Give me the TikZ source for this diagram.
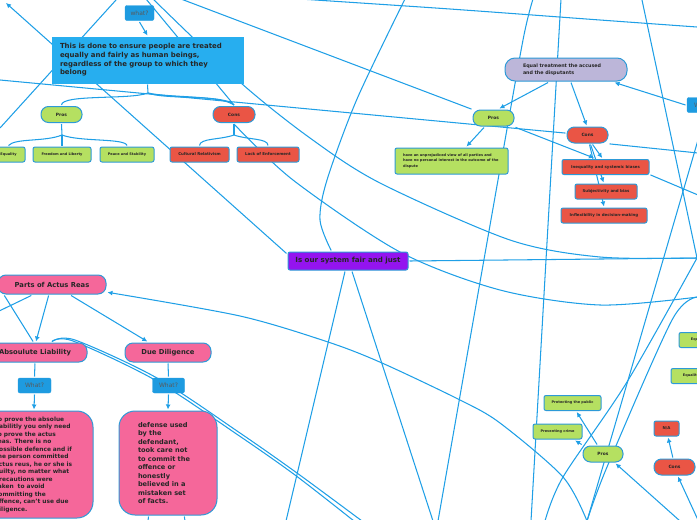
\documentclass[tikz,border=0pt]{standalone}
\usepackage{fontspec}
\setmainfont{DejaVu Sans}
\usepackage{tikz}
\usetikzlibrary{arrows.meta,backgrounds}
\definecolor{linecol}{HTML}{1F9FE6}
\definecolor{greencol}{HTML}{B5E061}
\definecolor{redcol}{HTML}{EA5545}
\definecolor{pinkcol}{HTML}{F5679A}
\definecolor{bluecol}{HTML}{27AEEF}
\definecolor{whatcol}{HTML}{1E9BE0}
\definecolor{purplecol}{HTML}{9414EF}
\definecolor{lavcol}{HTML}{BCB6D9}
\newcommand{\sz}[2]{\fontsize{#1}{#2}\selectfont\bfseries}
\tikzset{
  base/.style={draw=linecol!85!gray,line width=1pt,inner sep=0pt,outer sep=1.5pt,align=center,text=black!85},
  pill/.style={base,rounded corners=7.5pt,font=\sz{4.4}{5}},
  leaf/.style={base,fill=greencol,rounded corners=2pt,minimum height=15pt,font=\sz{3.5}{4}},
  redleaf/.style={leaf,fill=redcol,font=\sz{3.95}{4}},
  whatbox/.style={fill=whatcol,draw=whatcol,rounded corners=2pt,inner sep=0pt,outer sep=1.5pt,minimum height=15pt,font=\fontsize{6}{7}\selectfont,text=black!65},
  link/.style={draw=linecol,line width=1.05pt},
  arr/.style={link,-{Latex[length=5pt,width=5pt]}}
}
\begin{document}
\begin{tikzpicture}[x=1pt,y=-1pt]
\useasboundingbox (0,0) rectangle (697,520);
% centre
\node[base,fill=purplecol,rounded corners=2pt,minimum width=120pt,minimum height=18pt,font=\sz{7.1}{8}] (rootnode) at (348,261) {Is our system fair and just};
% top left
\node[whatbox,minimum width=29pt] (whatA) at (139.5,13) {what?};
\node[base,fill=bluecol,draw=bluecol,minimum width=191pt,minimum height=46pt,text width=175pt,font=\sz{6.95}{8.7},align=left] (doneA) at (147.5,60) {This is done to ensure people are treated\\equally and fairly as human beings,\\regardless of the group to which they\\belong};
\node[pill,fill=greencol,minimum width=41pt,minimum height=16pt] (prosA) at (61.5,114.5) {Pros};
\node[pill,fill=redcol,minimum width=42pt,minimum height=16pt] (consA) at (234,114.5) {Cons};
\node[leaf,minimum width=33pt] (equalA) at (8.5,154.5) {Equality};
\node[leaf,minimum width=58pt] (freeA) at (62,154.5) {Freedom and Liberty};
\node[leaf,minimum width=54pt] (peaceA) at (127,154.5) {Peace and Stability};
\node[redleaf,minimum width=59pt] (cultA) at (199.5,154.5) {Cultural Relativism};
\node[redleaf,minimum width=62pt] (lackA) at (268,154.5) {Lack of Enforcement};
% top right
\node[base,fill=lavcol,rounded corners=10pt,minimum width=122pt,minimum height=23pt,text width=86pt,font=\sz{4.8}{6.4},align=left] (treatB) at (566,69.5) {Equal treatment the accused\\and the disputants};
\node[pill,fill=greencol,minimum width=41pt,minimum height=16pt] (prosB) at (493.5,118) {Pros};
\node[pill,fill=redcol,minimum width=41pt,minimum height=16pt] (consB) at (587.5,135) {Cons};
\node[leaf,minimum width=113pt,minimum height=26pt,text width=97pt,font=\fontsize{3.55}{5.2}\selectfont\bfseries,align=left] (viewB) at (451.5,161) {have an unprejudiced view of all parties and\\have no personal interest in the outcome of the\\dispute};
\node[redleaf,minimum width=87pt] (ineqB) at (605.5,167) {Inequality and systemic biases};
\node[redleaf,minimum width=62pt] (subjB) at (606,191.5) {Subjectivity and bias};
\node[redleaf,minimum width=86pt] (inflexB) at (604,215.5) {Inflexibility in decision-making};
\node[whatbox,minimum width=33pt] (whatB) at (703.5,105) {What?};
% bottom left
\node[base,fill=pinkcol,rounded corners=8pt,minimum width=108pt,minimum height=19pt,font=\sz{6.8}{8}] (partsC) at (52,284.5) {Parts of Actus Reas};
\node[base,fill=pinkcol,rounded corners=8pt,minimum width=104pt,minimum height=19pt,font=\sz{6.8}{8}] (absC) at (35,352.5) {Absoulute Liability};
\node[base,fill=pinkcol,rounded corners=8pt,minimum width=86pt,minimum height=19pt,font=\sz{6.8}{8}] (dueC) at (168,352.5) {Due Diligence};
\node[whatbox,minimum width=33pt] (whatC) at (34.5,385.5) {What?};
\node[whatbox,minimum width=32pt] (whatD) at (168.5,385.5) {What?};
\node[base,fill=pinkcol,rounded corners=16pt,minimum width=118pt,minimum height=107pt,text width=78pt,font=\sz{5.9}{7.5},align=left] (absText) at (34,464.5) {To prove the absolue\\liabilitly you only need\\to prove the actus\\reas. There is no\\possible defence and if\\the person committed\\actus reus, he or she is\\guilty, no matter what\\precautions were\\taken~ to avoid\\committing the\\offence, can't use due\\diligence.};
\node[base,fill=pinkcol,rounded corners=16pt,minimum width=98pt,minimum height=104pt,text width=60pt,font=\sz{6.6}{8.5},align=left] (dueText) at (168,463) {defense used\\by the\\defendant,\\took care not\\to commit the\\offence or\\honestly\\believed in a\\mistaken set\\of facts.};
% bottom right
\node[leaf,minimum width=57pt] (protD) at (572.5,403) {Protecting the public};
\node[leaf,minimum width=49pt] (prevD) at (557.5,431.5) {Preventing crime};
\node[pill,fill=greencol,minimum width=40pt,minimum height=16pt] (prosD) at (603,454) {Pros};
\node[pill,fill=redcol,minimum width=41pt,minimum height=16pt] (consD) at (674.5,467) {Cons};
\node[redleaf,minimum width=25pt] (naD) at (666.5,428.5) {N/A};
\node[leaf,minimum width=40pt] (equalE) at (699,340) {Equality};
\node[leaf,minimum width=40pt] (equalF) at (691,376) {Equality};
% free ends
\coordinate (f1) at (6,3);
\coordinate (f2) at (116,0);
\coordinate (f3) at (0,128);
\coordinate (f4) at (146,-1);
\coordinate (f5) at (153,-1);
\coordinate (f6) at (181,-1);
\coordinate (f7) at (300,-1);
\coordinate (f8) at (697,27);
\coordinate (f9) at (405,-1);
\coordinate (f10) at (286,521);
\coordinate (f11) at (433,521);
\coordinate (f12) at (533,-1);
\coordinate (f13) at (438,521);
\coordinate (f14) at (561,-1);
\coordinate (f15) at (531,521);
\coordinate (f16) at (642,0);
\coordinate (f17) at (697,258);
\coordinate (f18) at (698,140);
\coordinate (f19) at (587,521);
\coordinate (f20) at (545,521);
\coordinate (f21) at (698,297);
\coordinate (f22) at (0,80);
\coordinate (f23) at (698,153);
\coordinate (f24) at (698,195);
\coordinate (f25) at (-5,313);
\coordinate (f26) at (698,520);
\coordinate (f27) at (680,521);
\coordinate (f28) at (362,521);
\coordinate (f29) at (354,521);
\coordinate (f30) at (148,521);
\coordinate (f31) at (185,521);
\begin{scope}[on background layer]
\draw[link] (f2) -- (f3);
\draw[arr] (rootnode.173) -- (f1);
\draw[arr] (whatA.south) -- (doneA.north);
\draw[link] (consA.north) -- (f4);
\draw[link] plot[smooth] coordinates {(f5) (241,83) (310,138) (380,183) (510,240) (600,257) (f17)};
\draw[link] (prosB.158) -- (f6);
\draw[link] plot[smooth] coordinates {(f7) (450,9) (600,20) (f8)};
\draw[link] plot[smooth] coordinates {(f9) (357,99) (327,180) (320,220) (rootnode.148)};
\draw[link] (rootnode.-106) -- (f10);
\draw[link] (rootnode.-69) -- (f11);
\draw[link] plot[smooth] coordinates {(f12) (523,40) (498,180) (f13)};
\draw[link] (f14) -- (f15);
\draw[link] (f16) -- (f17);
\draw[link] (f18) -- (f19);
\draw[link] plot[smooth] coordinates {(f17) (627,382) (563,477) (f20)};
\draw[link] plot[smooth] coordinates {(f21) (672,320) (607,467) (f19)};
\draw[link] (rootnode.east) -- (f17);
\draw[link] plot[smooth] coordinates {(consA.south) (293,180) (400,252) (500,290) (600,305) (f21)};
\draw[link] (f22) -- (consB.175);
\draw[link] (consB.-22) -- (f23);
\draw[arr] (prosB.-23) -- (ineqB.142);
\draw[link] (ineqB.-10) -- (f24);
% left tree
\draw[link] (doneA.south) -- (148,93);
\draw[link] (148,93) .. controls (130,100) and (62,94) .. (prosA.north);
\draw[link] (148,93) .. controls (165,100) and (225,94) .. (consA.north);
\draw[link] (148,93) .. controls (170,98) and (220,95) .. (consA.north);
\draw[link] (prosA.south) -- (62,135);
\draw[link] (62,135) .. controls (45,142) and (15,138) .. (equalA.north);
\draw[link] (62,135) -- (freeA.north);
\draw[link] (62,135) .. controls (80,142) and (125,138) .. (peaceA.north);
\draw[link] (consA.south) -- (234,135);
\draw[link] (234,135) .. controls (220,140) and (200,138) .. (cultA.north);
\draw[link] (234,135) .. controls (248,140) and (268,138) .. (lackA.north);
% right tree
\draw[arr] (treatB.-144) -- (prosB.58);
\draw[arr] (treatB.-69) -- (consB.95);
\draw[arr] (whatB.west) -- (treatB.-15.5);
\draw[arr] (prosB.-135) -- (viewB.44);
\draw[arr] (consB.-62) -- (ineqB.110);
\draw[arr] (consB.-72) -- (subjB.105);
\draw[arr] (consB.-78) -- (inflexB.north);
% parts
\draw[arr] plot[smooth] coordinates {(f19) (563,477) (500,423) (460,400) (382,363) (328,342) (240,316) (partsC.-8)};
\draw[arr] (partsC.-107) -- (absC.85);
\draw[arr] (partsC.-30) -- (dueC.152);
\draw[link] (partsC.-152) -- (f25);
\draw[link] (partsC.-167) -- (absC.100);
\draw[link] plot[smooth] coordinates {(absC.33) (75,340) (157,378) (240,433) (297,473) (f28)};
\draw[link] plot[smooth] coordinates {(absC.33) (73,341) (155,380) (238,435) (295,475) (f29)};
\draw[link] (absC.south) -- (whatC.north);
\draw[arr] (whatC.south) -- (absText.north);
\draw[link] (dueC.south) -- (whatD.north);
\draw[arr] (whatD.south) -- (dueText.north);
\draw[link] (dueText.-110) -- (f30);
\draw[link] (dueText.-73) -- (f31);
% bottom right
\draw[arr] (prosD.122) -- (protD.-65);
\draw[arr] (prosD.156) -- (prevD.-27);
\draw[arr] (f27) -- (prosD.-37);
\draw[arr] (f26) -- (consD.-70);
\draw[arr] (consD.100) -- (naD.-80);
\end{scope}
\end{tikzpicture}
\end{document}
